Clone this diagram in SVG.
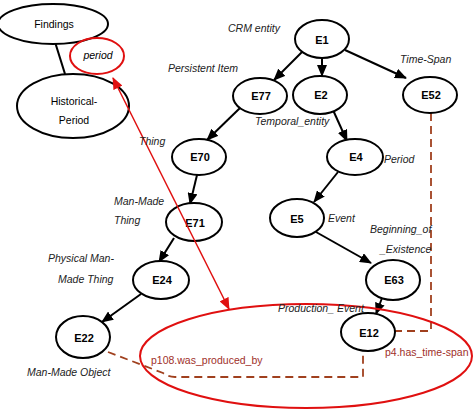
<svg xmlns="http://www.w3.org/2000/svg" width="474" height="410" viewBox="0 0 474 410">
<style>
.n{fill:#fff;stroke:#000;stroke-width:2}
.nt{font-family:"Liberation Sans",Arial,sans-serif;font-size:11px;font-weight:bold;fill:#000;text-anchor:middle;dominant-baseline:central}
.pt{font-family:"Liberation Sans",Arial,sans-serif;font-size:10.5px;fill:#000;text-anchor:middle;dominant-baseline:central}
.lb{font-family:"Liberation Sans",Arial,sans-serif;font-size:10.5px;font-style:italic;fill:#222}
.rl{font-family:"Liberation Sans",Arial,sans-serif;font-size:10.5px;fill:#a0302a}
.a{stroke:#000;stroke-width:2;fill:none;marker-end:url(#ah)}
.d{stroke:#a0401e;stroke-width:1.8;fill:none;stroke-dasharray:8 5}
.r{fill:none;stroke:#e01010;stroke-width:2}
</style>
<defs>
<marker id="ah" markerUnits="userSpaceOnUse" markerWidth="12" markerHeight="10" refX="11" refY="5" orient="auto"><path d="M0,0 L12,5 L0,10 Z" fill="#000"/></marker>
<marker id="rh" markerUnits="userSpaceOnUse" markerWidth="12" markerHeight="10" refX="11" refY="5" orient="auto-start-reverse"><path d="M0,0 L12,5 L0,10 Z" fill="#e01010"/></marker>
</defs>
<g id="connectors">
<line x1="55" y1="42" x2="65" y2="74" stroke="#000" stroke-width="2"/>
<line class="a" x1="302" y1="52" x2="274" y2="80"/>
<line class="a" x1="322" y1="58" x2="322" y2="76"/>
<line class="a" x1="345" y1="50" x2="406" y2="78"/>
<line class="a" x1="240" y1="108" x2="207" y2="140"/>
<line class="a" x1="333" y1="110" x2="347" y2="141"/>
<line class="a" x1="197" y1="175" x2="190" y2="204"/>
<line class="a" x1="338" y1="172" x2="314" y2="202"/>
<line class="a" x1="174" y1="238" x2="159" y2="262"/>
<line class="a" x1="316" y1="232" x2="371" y2="263"/>
<line class="a" x1="141" y1="294" x2="102" y2="322"/>
<line class="a" x1="382" y1="298" x2="376" y2="314"/>
<path class="d" d="M431,113 L431,331 L395,331"/>
<path class="d" d="M108,352 L163,373 Q168,377 175,377 L363,377 L363,352"/>
</g>
<g id="findings"><ellipse class="n" cx="53" cy="24" rx="55" ry="20"/><text class="pt" x="54" y="24">Findings</text></g>
<g id="period"><ellipse class="r" cx="97" cy="56" rx="27" ry="18"/><text class="pt" x="98" y="55" font-style="italic">period</text></g>
<g id="historical-period"><ellipse class="n" cx="73" cy="106" rx="56" ry="32"/><text class="pt" x="74" y="101">Historical-</text><text class="pt" x="74" y="120">Period</text></g>
<g id="E1"><ellipse class="n" cx="322" cy="39" rx="27" ry="19"/><text class="nt" x="322" y="40">E1</text></g>
<g id="E77"><ellipse class="n" cx="260" cy="96" rx="27" ry="18"/><text class="nt" x="261" y="96">E77</text></g>
<g id="E2"><ellipse class="n" cx="320" cy="95" rx="27" ry="19"/><text class="nt" x="321" y="95">E2</text></g>
<g id="E52"><ellipse class="n" cx="430" cy="95" rx="27" ry="18"/><text class="nt" x="431" y="95">E52</text></g>
<g id="E70"><ellipse class="n" cx="199" cy="157" rx="27" ry="18"/><text class="nt" x="200" y="157">E70</text></g>
<g id="E4"><ellipse class="n" cx="355" cy="157" rx="28" ry="18"/><text class="nt" x="356" y="157">E4</text></g>
<g id="E71"><ellipse class="n" cx="194" cy="222" rx="28" ry="19"/><text class="nt" x="195" y="223">E71</text></g>
<g id="E5"><ellipse class="n" cx="297" cy="218" rx="27" ry="19"/><text class="nt" x="297" y="219">E5</text></g>
<g id="E24"><ellipse class="n" cx="161" cy="280" rx="28" ry="19"/><text class="nt" x="162" y="280">E24</text></g>
<g id="E63"><ellipse class="n" cx="393" cy="280" rx="27" ry="20"/><text class="nt" x="394" y="280">E63</text></g>
<g id="E12"><ellipse class="n" cx="368" cy="332" rx="27" ry="19"/><text class="nt" x="369" y="333">E12</text></g>
<g id="E22"><ellipse class="n" cx="83" cy="337" rx="27" ry="21"/><text class="nt" x="84" y="338">E22</text></g>
<g id="production-event"><ellipse class="r" cx="306" cy="356" rx="166" ry="52"/></g>
<g id="red-connector">
<line x1="113" y1="78" x2="229" y2="309" stroke="#e01010" stroke-width="1.5" marker-start="url(#rh)" marker-end="url(#rh)"/>
</g>
<g id="labels">
<text class="lb" x="228" y="32">CRM entity</text>
<text class="lb" x="168" y="72">Persistent Item</text>
<text class="lb" x="400" y="63">Time-Span</text>
<text class="lb" x="255" y="125">Temporal_entity</text>
<text class="lb" x="139" y="145">Thing</text>
<text class="lb" x="384" y="163">Period</text>
<text class="lb" x="114" y="205">Man-Made</text>
<text class="lb" x="114" y="224">Thing</text>
<text class="lb" x="328" y="222">Event</text>
<text class="lb" x="370" y="233">Beginning_of</text>
<text class="lb" x="380" y="253">_Existence</text>
<text class="lb" x="48" y="262">Physical Man-</text>
<text class="lb" x="58" y="283">Made Thing</text>
<text class="lb" x="278" y="312">Production_ Event</text>
<text class="lb" x="27" y="376">Man-Made Object</text>
<text class="rl" x="151" y="364">p108.was_produced_by</text>
<text class="rl" x="385" y="356">p4.has_time-span</text>
</g>
</svg>
